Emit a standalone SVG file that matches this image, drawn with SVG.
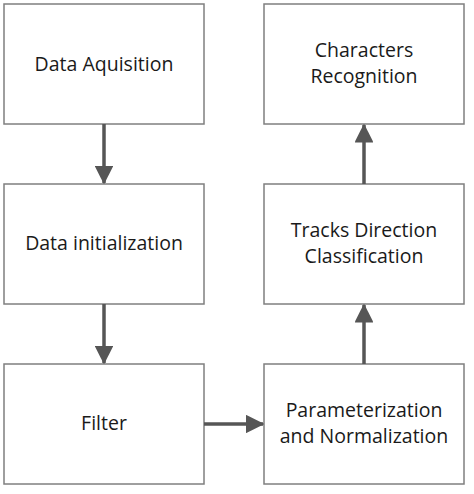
<svg xmlns="http://www.w3.org/2000/svg" width="474" height="494" viewBox="0 0 474 494">
<defs>
<style>
.box{fill:#ffffff;stroke:#7f7f7f;stroke-width:1.5}
.lbl{font-family:"Open Sans","Noto Sans",sans-serif;font-size:19.5px;fill:#1a1a1a;text-anchor:middle}
.conn{stroke:#565656;stroke-width:3.5;fill:none}
</style>
<marker id="ah" markerWidth="5.4" markerHeight="5.4" refX="5" refY="2.7" orient="auto" markerUnits="strokeWidth" viewBox="0 0 5.4 5.4">
<path d="M0,0 L5.4,2.7 L0,5.4 Z" fill="#565656"/>
</marker>
</defs>
<rect width="474" height="494" fill="#ffffff"/>
<g id="n1"><rect class="box" x="4" y="4" width="200" height="120"/><text class="lbl" x="104" y="71">Data Aquisition</text></g>
<g id="n2"><rect class="box" x="4" y="184" width="200" height="120"/><text class="lbl" x="104" y="250">Data initialization</text></g>
<g id="n3"><rect class="box" x="4" y="364" width="200" height="120"/><text class="lbl" x="104" y="430">Filter</text></g>
<g id="n4"><rect class="box" x="264" y="364" width="200" height="120"/><text class="lbl" x="364" y="417">Parameterization</text><text class="lbl" x="364" y="443">and Normalization</text></g>
<g id="n5"><rect class="box" x="264" y="184" width="200" height="120"/><text class="lbl" x="364" y="237">Tracks Direction</text><text class="lbl" x="364" y="263">Classification</text></g>
<g id="n6"><rect class="box" x="264" y="4" width="200" height="120"/><text class="lbl" x="364" y="57">Characters</text><text class="lbl" x="364" y="83">Recognition</text></g>
<g id="connectors">
<line class="conn" x1="104" y1="124" x2="104" y2="183" marker-end="url(#ah)"/>
<line class="conn" x1="104" y1="304" x2="104" y2="363" marker-end="url(#ah)"/>
<line class="conn" x1="204" y1="424" x2="263" y2="424" marker-end="url(#ah)"/>
<line class="conn" x1="364" y1="364" x2="364" y2="305" marker-end="url(#ah)"/>
<line class="conn" x1="364" y1="184" x2="364" y2="125" marker-end="url(#ah)"/>
</g>
</svg>
